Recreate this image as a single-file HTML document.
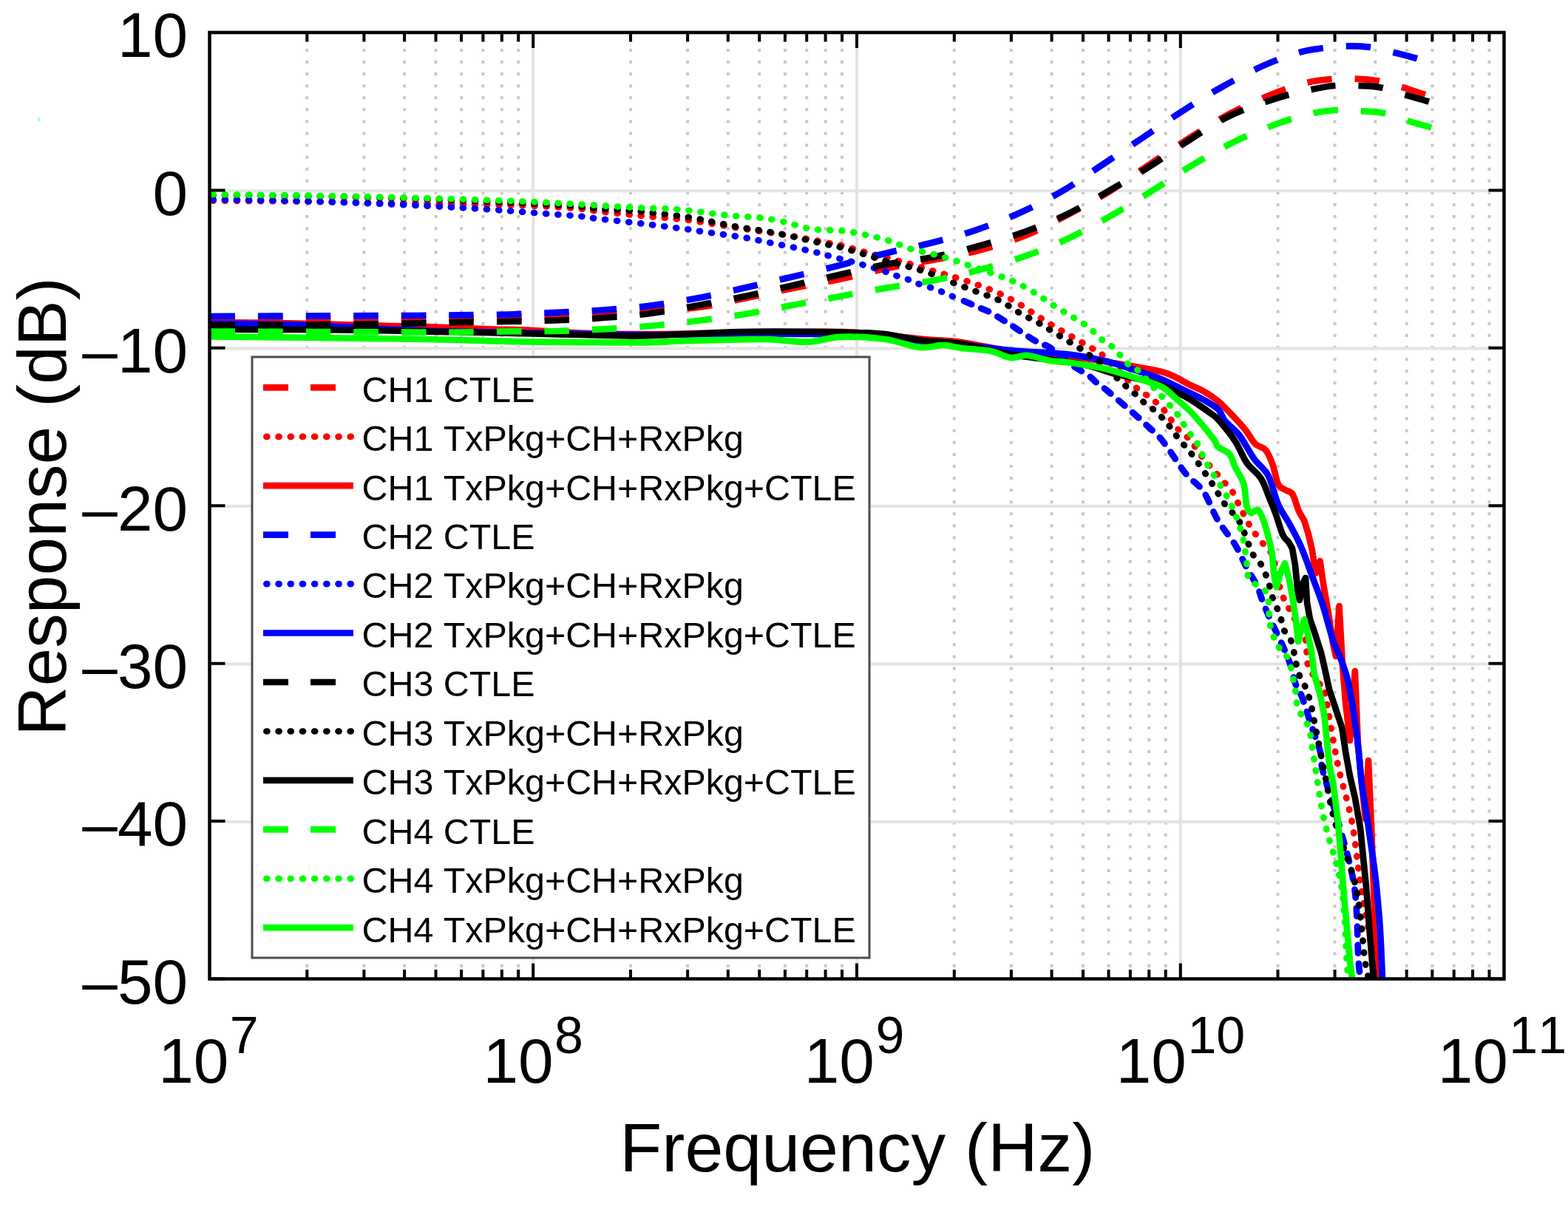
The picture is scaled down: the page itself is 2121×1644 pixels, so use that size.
<!DOCTYPE html><html><head><meta charset="utf-8"><title>Frequency response</title><style>html,body{margin:0;padding:0;background:#fff;}svg{display:block;}text{font-family:"Liberation Sans",sans-serif;fill:#000;font-kerning:none;font-feature-settings:"kern" 0;}</style></head><body>
<svg width="2121" height="1644" viewBox="0 0 2121 1644">
<rect width="2121" height="1644" fill="#fff"/>
<ellipse cx="52.5" cy="161.5" rx="1.8" ry="2.8" fill="#9ffbf8"/>
<g>
<line x1="415.3" y1="49.8" x2="415.3" y2="1314.5" stroke="#c8c8c8" stroke-width="4" stroke-dasharray="4 12.088"/>
<line x1="492.4" y1="49.8" x2="492.4" y2="1314.5" stroke="#c8c8c8" stroke-width="4" stroke-dasharray="4 12.088"/>
<line x1="547.1" y1="49.8" x2="547.1" y2="1314.5" stroke="#c8c8c8" stroke-width="4" stroke-dasharray="4 12.088"/>
<line x1="589.5" y1="49.8" x2="589.5" y2="1314.5" stroke="#c8c8c8" stroke-width="4" stroke-dasharray="4 12.088"/>
<line x1="624.1" y1="49.8" x2="624.1" y2="1314.5" stroke="#c8c8c8" stroke-width="4" stroke-dasharray="4 12.088"/>
<line x1="653.4" y1="49.8" x2="653.4" y2="1314.5" stroke="#c8c8c8" stroke-width="4" stroke-dasharray="4 12.088"/>
<line x1="678.8" y1="49.8" x2="678.8" y2="1314.5" stroke="#c8c8c8" stroke-width="4" stroke-dasharray="4 12.088"/>
<line x1="701.2" y1="49.8" x2="701.2" y2="1314.5" stroke="#c8c8c8" stroke-width="4" stroke-dasharray="4 12.088"/>
<line x1="853.0" y1="49.8" x2="853.0" y2="1314.5" stroke="#c8c8c8" stroke-width="4" stroke-dasharray="4 12.088"/>
<line x1="930.1" y1="49.8" x2="930.1" y2="1314.5" stroke="#c8c8c8" stroke-width="4" stroke-dasharray="4 12.088"/>
<line x1="984.8" y1="49.8" x2="984.8" y2="1314.5" stroke="#c8c8c8" stroke-width="4" stroke-dasharray="4 12.088"/>
<line x1="1027.2" y1="49.8" x2="1027.2" y2="1314.5" stroke="#c8c8c8" stroke-width="4" stroke-dasharray="4 12.088"/>
<line x1="1061.9" y1="49.8" x2="1061.9" y2="1314.5" stroke="#c8c8c8" stroke-width="4" stroke-dasharray="4 12.088"/>
<line x1="1091.2" y1="49.8" x2="1091.2" y2="1314.5" stroke="#c8c8c8" stroke-width="4" stroke-dasharray="4 12.088"/>
<line x1="1116.6" y1="49.8" x2="1116.6" y2="1314.5" stroke="#c8c8c8" stroke-width="4" stroke-dasharray="4 12.088"/>
<line x1="1139.0" y1="49.8" x2="1139.0" y2="1314.5" stroke="#c8c8c8" stroke-width="4" stroke-dasharray="4 12.088"/>
<line x1="1290.8" y1="49.8" x2="1290.8" y2="1314.5" stroke="#c8c8c8" stroke-width="4" stroke-dasharray="4 12.088"/>
<line x1="1367.9" y1="49.8" x2="1367.9" y2="1314.5" stroke="#c8c8c8" stroke-width="4" stroke-dasharray="4 12.088"/>
<line x1="1422.6" y1="49.8" x2="1422.6" y2="1314.5" stroke="#c8c8c8" stroke-width="4" stroke-dasharray="4 12.088"/>
<line x1="1465.0" y1="49.8" x2="1465.0" y2="1314.5" stroke="#c8c8c8" stroke-width="4" stroke-dasharray="4 12.088"/>
<line x1="1499.6" y1="49.8" x2="1499.6" y2="1314.5" stroke="#c8c8c8" stroke-width="4" stroke-dasharray="4 12.088"/>
<line x1="1528.9" y1="49.8" x2="1528.9" y2="1314.5" stroke="#c8c8c8" stroke-width="4" stroke-dasharray="4 12.088"/>
<line x1="1554.3" y1="49.8" x2="1554.3" y2="1314.5" stroke="#c8c8c8" stroke-width="4" stroke-dasharray="4 12.088"/>
<line x1="1576.7" y1="49.8" x2="1576.7" y2="1314.5" stroke="#c8c8c8" stroke-width="4" stroke-dasharray="4 12.088"/>
<line x1="1728.5" y1="49.8" x2="1728.5" y2="1314.5" stroke="#c8c8c8" stroke-width="4" stroke-dasharray="4 12.088"/>
<line x1="1805.6" y1="49.8" x2="1805.6" y2="1314.5" stroke="#c8c8c8" stroke-width="4" stroke-dasharray="4 12.088"/>
<line x1="1860.3" y1="49.8" x2="1860.3" y2="1314.5" stroke="#c8c8c8" stroke-width="4" stroke-dasharray="4 12.088"/>
<line x1="1902.7" y1="49.8" x2="1902.7" y2="1314.5" stroke="#c8c8c8" stroke-width="4" stroke-dasharray="4 12.088"/>
<line x1="1937.4" y1="49.8" x2="1937.4" y2="1314.5" stroke="#c8c8c8" stroke-width="4" stroke-dasharray="4 12.088"/>
<line x1="1966.7" y1="49.8" x2="1966.7" y2="1314.5" stroke="#c8c8c8" stroke-width="4" stroke-dasharray="4 12.088"/>
<line x1="1992.1" y1="49.8" x2="1992.1" y2="1314.5" stroke="#c8c8c8" stroke-width="4" stroke-dasharray="4 12.088"/>
<line x1="2014.5" y1="49.8" x2="2014.5" y2="1314.5" stroke="#c8c8c8" stroke-width="4" stroke-dasharray="4 12.088"/>
<line x1="721.2" y1="44.0" x2="721.2" y2="1324.5" stroke="#e4e4e4" stroke-width="4"/>
<line x1="1159.0" y1="44.0" x2="1159.0" y2="1324.5" stroke="#e4e4e4" stroke-width="4"/>
<line x1="1596.8" y1="44.0" x2="1596.8" y2="1324.5" stroke="#e4e4e4" stroke-width="4"/>
<line x1="283.5" y1="258.2" x2="2034.5" y2="258.2" stroke="#e4e4e4" stroke-width="4"/>
<line x1="283.5" y1="471.6" x2="2034.5" y2="471.6" stroke="#e4e4e4" stroke-width="4"/>
<line x1="283.5" y1="685.0" x2="2034.5" y2="685.0" stroke="#e4e4e4" stroke-width="4"/>
<line x1="283.5" y1="898.5" x2="2034.5" y2="898.5" stroke="#e4e4e4" stroke-width="4"/>
<line x1="283.5" y1="1111.9" x2="2034.5" y2="1111.9" stroke="#e4e4e4" stroke-width="4"/>
</g>
<g fill="none" stroke-width="8.7" stroke-linejoin="round">
<path d="M283.5,431.5 C311.2,431.5 403.9,431.6 450.0,431.5 C496.1,431.4 520.3,431.3 560.0,431.0 C599.7,430.7 656.0,430.1 688.0,429.5 C720.0,428.9 730.7,428.2 752.0,427.5 C773.3,426.8 794.7,426.2 816.0,425.0 C837.3,423.8 858.7,422.0 880.0,420.5 C901.3,419.0 922.7,418.8 944.0,416.0 C965.3,413.2 986.7,407.8 1008.0,403.5 C1029.3,399.2 1050.8,394.2 1072.0,390.0 C1093.2,385.8 1113.7,382.5 1135.0,378.0 C1156.3,373.5 1179.0,367.3 1200.0,363.0 C1221.0,358.7 1240.2,356.1 1261.0,352.0 C1281.8,347.9 1303.7,344.2 1324.5,338.7 C1345.3,333.2 1366.2,326.9 1386.0,319.0 C1405.8,311.1 1424.6,300.9 1443.6,291.0 C1462.6,281.1 1481.6,270.8 1500.0,259.5 C1518.4,248.2 1535.9,235.1 1554.0,223.0 C1572.1,210.9 1590.4,198.5 1608.6,187.0 C1626.8,175.5 1644.3,163.9 1663.0,154.0 C1681.7,144.1 1703.3,134.5 1720.8,127.5 C1738.2,120.5 1754.6,115.4 1767.7,112.0 C1780.8,108.6 1788.7,108.1 1799.5,107.2 C1810.3,106.3 1821.7,106.2 1832.5,106.6 C1843.3,107.0 1853.7,107.6 1864.3,109.5 C1874.9,111.4 1885.8,114.7 1896.2,117.8 C1906.7,120.9 1920.1,125.7 1927.0,128.0 C1933.9,130.3 1935.7,131.2 1937.4,131.8" stroke="#ff0000" stroke-dasharray="33.57 30.99" stroke-dashoffset="63.46"/>
<path d="M283.5,271.5 C302.9,271.7 360.6,272.0 400.0,272.5 C439.4,273.0 479.3,273.8 520.0,274.5 C560.7,275.2 610.2,275.8 644.0,276.5 C677.8,277.2 699.2,277.7 723.0,278.7 C746.8,279.7 773.5,281.5 787.0,282.6 C800.5,283.7 790.5,283.7 804.0,285.3 C817.5,286.9 846.4,289.9 867.7,292.0 C889.0,294.1 910.5,295.3 931.8,298.0 C953.1,300.7 974.5,304.8 995.7,308.0 C1017.0,311.2 1043.5,315.0 1059.3,317.5 C1075.1,320.0 1080.1,321.1 1090.5,323.0 C1100.9,324.9 1113.6,327.5 1121.6,329.0 C1129.6,330.5 1130.5,330.0 1138.5,332.0 C1146.5,334.0 1159.5,338.2 1169.8,341.0 C1180.0,343.8 1189.9,346.3 1200.0,349.0 C1210.1,351.7 1220.1,354.2 1230.2,357.0 C1240.3,359.8 1250.0,362.9 1260.4,366.0 C1270.8,369.1 1282.2,372.3 1292.5,375.5 C1302.8,378.7 1312.1,381.7 1322.0,385.3 C1331.9,388.9 1342.2,392.6 1351.8,397.0 C1361.4,401.4 1370.2,406.3 1379.4,411.8 C1388.6,417.3 1397.5,423.9 1407.0,429.9 C1416.5,435.9 1427.5,442.5 1436.7,447.9 C1445.9,453.3 1455.7,458.8 1462.2,462.5 C1468.7,466.2 1471.1,467.8 1475.5,470.4 C1479.9,473.0 1482.8,473.1 1488.7,478.0 C1494.6,482.9 1503.3,492.5 1511.0,500.0 C1518.7,507.5 1529.0,517.7 1535.0,523.0 C1541.0,528.3 1542.9,528.7 1547.0,531.7 C1551.1,534.7 1555.4,537.9 1559.4,541.0 C1563.4,544.1 1567.4,547.1 1570.8,550.6 C1574.2,554.1 1577.2,558.2 1580.0,562.0 C1582.8,565.8 1584.9,569.5 1587.7,573.2 C1590.5,577.0 1593.4,580.9 1597.0,584.5 C1600.6,588.1 1604.2,589.0 1609.4,595.0 C1614.6,601.0 1620.6,611.1 1627.9,620.2 C1635.2,629.3 1646.7,641.9 1653.2,649.4 C1659.7,656.9 1662.9,659.2 1666.8,665.0 C1670.7,670.8 1672.3,676.3 1676.5,684.4 C1680.7,692.5 1686.5,704.8 1692.0,713.6 C1697.5,722.4 1704.7,730.5 1709.6,737.0 C1714.5,743.5 1717.3,741.7 1721.3,752.5 C1725.3,763.3 1728.6,788.2 1733.4,802.0 C1738.2,815.8 1744.6,824.5 1750.0,835.0 C1755.4,845.5 1762.6,854.3 1765.8,865.0 C1769.0,875.7 1766.1,889.2 1769.2,899.2 C1772.3,909.2 1780.8,919.1 1784.5,924.8 C1788.2,930.5 1788.2,920.5 1791.3,933.3 C1794.4,946.1 1799.9,982.9 1803.3,1001.4 C1806.7,1019.9 1807.6,1025.6 1811.8,1044.0 C1816.0,1062.4 1823.8,1086.0 1828.7,1112.0 C1833.6,1138.0 1836.0,1168.7 1841.0,1200.0 C1846.0,1231.3 1855.5,1279.2 1858.7,1300.0 C1861.9,1320.8 1859.8,1320.4 1860.0,1324.5" stroke="#ff0000" stroke-dasharray="1 15.1" stroke-linecap="round" stroke-dashoffset="-4.35"/>
<path d="M283.5,436.0 C302.9,436.2 359.4,436.7 400.0,437.5 C440.6,438.3 495.3,440.2 527.0,441.0 C558.7,441.8 568.7,441.8 590.0,442.5 C611.3,443.2 633.3,444.2 655.0,445.0 C676.7,445.8 698.5,446.1 720.0,447.0 C741.5,447.9 762.3,449.7 784.0,450.5 C805.7,451.3 830.7,451.8 850.0,452.0 C869.3,452.2 875.0,452.3 900.0,452.0 C925.0,451.7 966.7,450.5 1000.0,450.0 C1033.3,449.5 1073.5,449.0 1100.0,449.0 C1126.5,449.0 1134.0,448.3 1159.0,450.0 C1184.0,451.7 1226.5,456.8 1250.0,459.0 C1273.5,461.2 1280.5,460.3 1300.0,463.0 C1319.5,465.7 1347.0,472.2 1367.0,475.0 C1387.0,477.8 1404.2,478.5 1420.0,480.0 C1435.8,481.5 1447.8,482.2 1462.0,484.0 C1476.2,485.8 1491.3,488.7 1505.0,491.0 C1518.7,493.3 1532.7,495.6 1544.0,497.7 C1555.3,499.8 1565.0,501.3 1572.6,503.4 C1580.2,505.4 1583.3,507.1 1589.5,510.0 C1595.7,512.9 1603.4,517.7 1610.0,521.0 C1616.6,524.3 1622.7,526.3 1629.0,530.0 C1635.3,533.7 1641.7,537.7 1648.0,543.0 C1654.3,548.3 1660.8,555.4 1666.8,561.8 C1672.8,568.2 1679.1,574.7 1684.3,581.2 C1689.5,587.7 1693.5,596.2 1698.0,600.7 C1702.5,605.2 1707.7,604.0 1711.6,608.5 C1715.5,613.0 1718.4,620.2 1721.3,628.0 C1724.2,635.8 1726.1,649.4 1729.0,655.2 C1731.9,661.0 1735.5,660.7 1738.8,663.0 C1742.1,665.3 1745.7,664.3 1748.6,668.8 C1751.5,673.3 1753.7,684.4 1756.3,690.2 C1758.9,696.1 1762.7,701.6 1764.0,703.9 L1770.0,723.3 L1775.0,745.0 L1779.5,776.0 L1785.6,759.0 L1790.0,790.0 L1797.0,830.0 L1803.0,870.0 L1807.0,888.0 L1811.5,820.0 L1816.0,900.0 L1820.0,950.0 L1826.0,1002.0 L1832.8,908.0 L1837.0,1008.0 L1842.0,1060.0 L1847.0,1108.0 L1851.0,1029.0 L1855.0,1118.0 L1858.0,1200.0 L1861.0,1300.0 L1862.0,1324.5" stroke="#ff0000"/>
<path d="M283.5,428.0 C306.2,427.9 373.9,427.7 420.0,427.5 C466.1,427.3 526.3,427.2 560.0,427.0 C593.7,426.8 600.7,426.6 622.0,426.3 C643.3,426.1 666.3,426.1 688.0,425.5 C709.7,424.9 730.7,423.8 752.0,422.8 C773.3,421.8 794.7,421.0 816.0,419.5 C837.3,418.0 858.7,416.3 880.0,413.6 C901.3,410.9 922.8,407.3 944.0,403.3 C965.2,399.3 986.0,394.2 1007.0,389.5 C1028.0,384.8 1048.8,380.0 1070.0,375.0 C1091.2,370.0 1112.8,364.8 1134.0,359.5 C1155.2,354.2 1176.2,348.1 1197.0,343.0 C1217.8,337.9 1238.0,334.3 1258.5,329.0 C1279.0,323.7 1299.8,318.2 1320.0,311.3 C1340.2,304.4 1360.5,296.5 1380.0,287.7 C1399.5,278.9 1418.5,269.3 1437.0,258.5 C1455.5,247.7 1473.2,234.8 1491.0,223.0 C1508.8,211.2 1526.0,199.6 1544.0,187.5 C1562.0,175.4 1580.8,162.2 1599.0,150.6 C1617.2,138.9 1634.3,128.0 1653.0,117.6 C1671.7,107.1 1693.7,95.6 1711.0,87.9 C1728.3,80.2 1744.2,75.0 1757.0,71.2 C1769.8,67.4 1777.3,66.8 1788.0,65.3 C1798.7,63.8 1810.5,62.7 1821.0,62.4 C1831.5,62.1 1840.5,62.2 1851.0,63.6 C1861.5,65.0 1873.2,68.0 1884.0,70.6 C1894.8,73.2 1907.1,76.4 1916.0,79.0 C1924.9,81.6 1933.8,84.8 1937.4,86.0" stroke="#0000ff" stroke-dasharray="33.55 30.97" stroke-dashoffset="63.42"/>
<path d="M283.5,270.0 C302.9,270.3 360.6,271.0 400.0,272.0 C439.4,273.0 479.3,274.3 520.0,276.0 C560.7,277.7 610.2,280.3 644.0,282.3 C677.8,284.3 699.2,286.2 723.0,288.0 C746.8,289.8 773.5,291.6 787.0,292.8 C800.5,294.0 790.5,293.8 804.0,295.4 C817.5,297.0 846.4,300.0 867.7,302.5 C889.0,305.0 918.5,308.8 931.8,310.5 C945.1,312.2 939.8,311.9 947.6,313.0 C955.4,314.1 968.1,315.8 978.7,317.3 C989.3,318.8 1000.4,320.3 1011.0,322.2 C1021.6,324.1 1031.7,326.5 1042.4,328.6 C1053.1,330.7 1064.4,332.8 1075.0,335.0 C1085.6,337.2 1098.2,340.1 1106.0,342.0 C1113.8,343.9 1114.1,344.3 1121.6,346.3 C1129.1,348.3 1143.3,351.8 1151.0,353.8 C1158.7,355.8 1160.5,356.3 1168.0,358.5 C1175.5,360.7 1188.8,364.6 1196.0,367.0 C1203.2,369.4 1205.9,370.9 1211.0,372.6 C1216.1,374.3 1221.6,375.7 1226.4,377.4 C1231.2,379.1 1233.0,380.6 1239.6,383.0 C1246.2,385.4 1259.1,389.0 1266.0,391.5 C1272.9,394.0 1275.3,395.6 1281.0,398.0 C1286.7,400.4 1296.8,404.4 1300.0,405.7" stroke="#0000ff" stroke-dasharray="1 15.1" stroke-linecap="round" stroke-dashoffset="-4.35"/>
<path d="M1300.0,405.7 C1302.2,406.6 1308.8,409.4 1313.2,411.3 C1317.6,413.2 1322.1,415.1 1326.4,417.0 C1330.7,418.9 1333.3,419.4 1339.0,422.4 C1344.7,425.4 1353.2,430.8 1360.3,435.2 C1367.4,439.6 1374.4,444.4 1381.5,449.0 C1388.6,453.6 1396.4,459.2 1402.8,462.7 C1409.2,466.2 1413.3,465.9 1419.7,470.0 C1426.1,474.1 1436.0,483.0 1441.0,487.0 C1446.0,491.0 1444.6,490.3 1450.0,494.0 C1455.4,497.7 1468.1,505.1 1473.6,509.0 C1479.1,512.9 1479.1,514.3 1483.0,517.5 C1486.9,520.7 1492.3,524.2 1497.0,528.0 C1501.7,531.8 1506.2,535.9 1511.0,540.0 C1515.8,544.1 1520.7,548.4 1525.5,552.5 C1530.3,556.6 1534.9,560.5 1539.6,564.7 C1544.3,569.0 1549.1,573.6 1553.8,578.0 C1558.5,582.4 1563.5,586.0 1568.0,591.0 C1572.5,596.0 1574.9,599.6 1581.0,608.0 C1587.1,616.4 1596.7,632.1 1604.5,641.6 C1612.3,651.1 1620.8,654.6 1627.9,665.0 C1635.0,675.4 1640.2,691.9 1647.3,703.9 C1654.4,715.9 1664.2,726.3 1670.7,737.0 C1677.2,747.7 1681.4,758.8 1686.3,768.0 C1691.2,777.2 1696.1,783.7 1700.0,792.0 C1703.9,800.3 1706.0,809.2 1709.6,818.0 C1713.2,826.8 1717.2,835.7 1721.5,845.0 C1725.8,854.3 1731.1,864.7 1735.1,873.7 C1739.1,882.7 1742.6,890.7 1745.4,899.2 C1748.2,907.7 1749.7,917.7 1752.2,924.8 C1754.8,931.9 1757.9,934.7 1760.7,941.8 C1763.5,948.9 1766.4,958.8 1769.2,967.3 C1772.0,975.8 1774.9,984.4 1777.7,992.9 C1780.5,1001.4 1784.2,1009.9 1786.2,1018.4 C1788.2,1026.9 1785.6,1028.4 1789.6,1044.0 C1793.6,1059.6 1802.9,1086.0 1810.0,1112.0 C1817.1,1138.0 1827.4,1168.7 1832.0,1200.0 C1836.6,1231.3 1836.1,1279.2 1837.6,1300.0 C1839.1,1320.8 1840.4,1320.4 1841.0,1324.5" stroke="#0000ff" stroke-dasharray="11 14" stroke-linecap="round" stroke-dashoffset="-4.35"/>
<path d="M283.5,437.8 C291.2,437.9 310.6,437.9 330.0,438.2 C349.4,438.5 378.3,438.9 400.0,439.5 C421.7,440.1 438.8,441.0 460.0,442.0 C481.2,443.0 505.3,444.5 527.0,445.5 C548.7,446.5 557.8,447.2 590.0,448.0 C622.2,448.8 676.7,449.7 720.0,450.5 C763.3,451.3 820.0,452.6 850.0,453.0 C880.0,453.4 875.0,453.2 900.0,453.0 C925.0,452.8 966.7,451.7 1000.0,451.5 C1033.3,451.3 1073.5,451.8 1100.0,452.0 C1126.5,452.2 1134.0,451.3 1159.0,453.0 C1184.0,454.7 1226.5,459.8 1250.0,462.0 C1273.5,464.2 1280.5,464.0 1300.0,466.0 C1319.5,468.0 1347.0,472.1 1367.0,474.0 C1387.0,475.9 1406.2,476.6 1420.0,477.6 C1433.8,478.6 1437.2,478.1 1450.0,480.0 C1462.8,481.9 1481.3,485.1 1497.0,489.0 C1512.7,492.9 1531.4,499.6 1544.0,503.7 C1556.6,507.8 1563.1,509.7 1572.6,513.7 C1582.1,517.7 1591.6,523.1 1601.0,527.7 C1610.4,532.3 1621.2,537.1 1629.0,541.5 C1636.8,545.9 1643.3,549.3 1648.0,554.0 C1652.7,558.7 1652.2,563.7 1657.0,569.5 C1661.8,575.3 1670.0,580.5 1676.5,589.0 C1683.0,597.5 1689.5,611.1 1696.0,620.2 C1702.5,629.3 1710.0,633.1 1715.5,643.5 C1721.0,653.9 1724.1,671.4 1729.0,682.4 C1733.9,693.4 1739.5,700.1 1744.7,709.7 C1749.9,719.3 1755.0,728.5 1760.0,740.0 C1765.0,751.5 1769.9,766.0 1774.7,779.0 C1779.5,792.0 1784.3,803.5 1789.0,818.0 C1793.7,832.5 1799.0,854.0 1803.0,866.0 C1807.0,878.0 1809.8,881.6 1813.0,890.0 C1816.2,898.4 1819.4,906.2 1822.0,916.2 C1824.6,926.2 1826.8,938.9 1828.8,950.3 C1830.8,961.7 1832.5,973.0 1834.0,984.4 C1835.5,995.8 1836.7,1005.8 1838.0,1018.4 C1839.3,1031.0 1840.0,1044.4 1842.0,1060.0 C1844.0,1075.6 1847.5,1095.3 1850.0,1112.0 C1852.5,1128.7 1855.0,1145.3 1857.0,1160.0 C1859.0,1174.7 1860.3,1183.3 1862.0,1200.0 C1863.7,1216.7 1865.7,1239.2 1867.0,1260.0 C1868.3,1280.8 1869.5,1313.8 1870.0,1324.5" stroke="#0000ff"/>
<path d="M283.5,440.0 C306.2,439.9 373.9,439.9 420.0,439.5 C466.1,439.1 526.3,438.1 560.0,437.5 C593.7,436.9 600.7,436.4 622.0,436.0 C643.3,435.6 666.3,435.4 688.0,435.0 C709.7,434.6 730.7,434.3 752.0,433.5 C773.3,432.7 794.7,431.6 816.0,430.0 C837.3,428.4 858.7,426.8 880.0,424.0 C901.3,421.2 922.5,417.1 944.0,413.2 C965.5,409.3 987.5,405.1 1008.7,400.7 C1029.9,396.2 1050.0,391.3 1071.0,386.5 C1092.0,381.7 1113.0,376.8 1134.5,372.0 C1156.0,367.2 1178.9,361.5 1200.0,357.5 C1221.1,353.5 1240.7,352.1 1261.3,348.0 C1281.9,343.9 1303.0,338.7 1323.6,333.0 C1344.2,327.3 1364.9,321.2 1385.0,314.0 C1405.1,306.8 1425.9,298.3 1444.0,289.6 C1462.1,280.9 1475.1,272.6 1493.4,262.0 C1511.7,251.4 1534.9,238.0 1554.0,226.0 C1573.1,214.0 1589.8,201.5 1608.0,190.0 C1626.2,178.5 1643.4,166.4 1663.0,157.0 C1682.6,147.6 1707.3,139.3 1725.7,133.4 C1744.1,127.5 1760.5,124.2 1773.6,121.3 C1786.7,118.4 1793.6,116.9 1804.2,116.0 C1814.8,115.1 1826.6,115.6 1837.2,116.0 C1847.8,116.4 1857.3,116.3 1867.9,118.4 C1878.5,120.5 1890.4,125.3 1900.9,128.4 C1911.4,131.5 1924.9,135.2 1931.0,137.0 C1937.1,138.8 1936.3,139.1 1937.4,139.5" stroke="#000000" stroke-dasharray="33.57 30.99" stroke-dashoffset="63.45"/>
<path d="M283.5,263.5 C302.9,263.8 360.6,264.3 400.0,265.0 C439.4,265.7 479.3,266.4 520.0,267.6 C560.7,268.8 610.2,270.7 644.0,272.0 C677.8,273.3 699.2,274.4 723.0,275.6 C746.8,276.9 773.5,278.4 787.0,279.5 C800.5,280.6 790.5,280.8 804.0,282.0 C817.5,283.2 846.4,284.5 867.7,286.5 C889.0,288.5 915.6,291.7 931.8,294.0 C947.9,296.3 954.0,298.2 964.6,300.3 C975.2,302.4 985.3,304.8 995.7,306.7 C1006.1,308.6 1016.2,309.8 1026.8,311.6 C1037.4,313.4 1048.7,315.2 1059.3,317.3 C1069.9,319.4 1080.1,322.0 1090.5,324.4 C1100.9,326.8 1113.6,329.6 1121.6,331.4 C1129.6,333.2 1130.5,332.9 1138.5,335.0 C1146.5,337.1 1159.5,341.2 1169.8,344.3 C1180.0,347.4 1189.9,351.0 1200.0,353.8 C1210.1,356.6 1220.1,358.5 1230.2,361.3 C1240.3,364.1 1250.3,367.2 1260.4,370.8 C1270.5,374.4 1280.2,378.9 1290.6,383.0 C1301.0,387.1 1312.4,391.4 1322.6,395.3 C1332.8,399.2 1342.3,401.8 1351.8,406.5 C1361.3,411.2 1370.2,418.2 1379.4,423.5 C1388.6,428.8 1397.8,433.0 1407.0,438.3 C1416.2,443.6 1425.4,449.6 1434.6,455.3 C1443.8,461.0 1455.4,467.9 1462.2,472.3 C1469.0,476.7 1471.2,478.8 1475.5,481.7 C1479.8,484.6 1481.8,485.0 1487.7,490.0 C1493.6,495.0 1505.0,506.1 1511.0,511.6 C1517.0,517.1 1519.4,519.3 1523.6,523.0 C1527.8,526.7 1532.3,530.1 1536.4,533.8 C1540.5,537.5 1544.0,541.6 1548.0,545.0 C1552.0,548.4 1556.3,550.8 1560.4,554.3 C1564.5,557.8 1568.8,561.8 1572.6,565.7 C1576.4,569.7 1579.8,574.0 1583.0,578.0 C1586.2,582.0 1588.3,585.9 1591.5,590.0 C1594.7,594.1 1598.7,598.5 1602.2,602.8 C1605.8,607.0 1606.9,607.4 1612.8,615.5 C1618.7,623.6 1630.2,640.1 1637.6,651.3 C1645.0,662.4 1650.5,673.3 1657.0,682.4 C1663.5,691.5 1670.3,694.8 1676.5,705.8 C1682.7,716.8 1689.2,739.2 1694.0,748.6 C1698.8,758.0 1702.0,757.7 1705.0,762.4 C1708.0,767.1 1710.0,772.3 1711.9,777.0 C1713.9,781.7 1715.2,785.7 1716.7,790.6 C1718.2,795.5 1719.0,801.2 1720.6,806.2 C1722.2,811.2 1724.5,816.1 1726.5,820.8 C1728.5,825.5 1730.8,829.6 1732.3,834.5 C1733.8,839.4 1733.1,845.1 1735.2,850.0 C1737.3,854.9 1742.6,858.7 1745.0,863.7 C1747.4,868.7 1748.5,874.9 1749.8,880.2 C1751.1,885.6 1751.5,890.4 1752.8,895.8 C1754.0,901.2 1755.1,907.1 1757.3,912.8 C1759.5,918.5 1763.2,923.6 1765.8,929.9 C1768.3,936.1 1770.3,941.2 1772.6,950.3 C1774.9,959.4 1777.1,973.0 1779.4,984.4 C1781.7,995.8 1784.2,1008.5 1786.2,1018.4 C1788.2,1028.3 1788.0,1028.4 1791.3,1044.0 C1794.6,1059.6 1798.7,1086.0 1805.8,1112.0 C1812.9,1138.0 1827.2,1168.7 1834.0,1200.0 C1840.8,1231.3 1843.5,1279.2 1846.4,1300.0 C1849.4,1320.8 1850.8,1320.4 1851.7,1324.5" stroke="#000000" stroke-dasharray="1 15.1" stroke-linecap="round" stroke-dashoffset="-4.35"/>
<path d="M283.5,445.5 C291.2,445.6 310.6,445.7 330.0,445.8 C349.4,445.9 378.3,445.9 400.0,446.0 C421.7,446.1 438.8,446.2 460.0,446.5 C481.2,446.8 505.3,447.1 527.0,447.5 C548.7,447.9 568.7,448.4 590.0,448.8 C611.3,449.2 633.3,449.6 655.0,450.0 C676.7,450.4 698.5,451.0 720.0,451.5 C741.5,452.0 762.3,452.5 784.0,453.0 C805.7,453.5 834.0,454.3 850.0,454.5 C866.0,454.7 863.3,454.8 880.0,454.2 C896.7,453.6 930.0,451.9 950.0,451.0 C970.0,450.1 975.0,449.4 1000.0,449.0 C1025.0,448.6 1073.5,448.7 1100.0,448.9 C1126.5,449.1 1142.8,449.5 1159.0,450.0 C1175.2,450.5 1182.5,450.2 1197.0,452.0 C1211.5,453.8 1228.8,458.3 1246.0,460.5 C1263.2,462.7 1279.8,461.8 1300.0,465.0 C1320.2,468.2 1340.0,475.1 1367.0,479.7 C1394.0,484.3 1439.0,488.3 1462.0,492.5 C1485.0,496.7 1490.3,501.2 1505.0,505.0 C1519.7,508.8 1538.7,512.2 1550.0,515.0 C1561.3,517.8 1564.1,518.6 1572.6,522.0 C1581.1,525.4 1593.1,531.3 1601.0,535.5 C1608.9,539.7 1613.7,542.9 1620.0,547.0 C1626.3,551.1 1634.0,556.5 1638.7,560.0 C1643.4,563.5 1642.7,561.9 1648.0,568.0 C1653.3,574.1 1664.3,587.1 1670.7,596.8 C1677.1,606.5 1680.5,617.6 1686.3,626.0 C1692.1,634.4 1700.5,639.3 1705.7,647.4 C1710.9,655.5 1714.2,666.9 1717.4,674.7 C1720.7,682.5 1722.3,686.0 1725.2,694.1 C1728.1,702.2 1732.1,716.8 1735.0,723.3 C1737.9,729.8 1740.5,729.9 1742.7,733.0 C1744.9,736.1 1747.1,740.5 1748.0,742.0 L1752.0,765.0 L1755.5,800.0 L1758.0,812.0 L1762.0,790.0 L1766.0,782.0 L1768.0,815.0 L1772.0,838.0 L1777.0,852.0 L1787.0,883.0 L1792.0,905.0 L1798.2,933.3 L1806.7,958.8 L1815.2,984.4 L1820.3,1018.4 L1826.0,1050.0 L1833.0,1080.0 L1840.0,1120.0 L1848.0,1200.0 L1853.0,1265.0 L1858.0,1324.5" stroke="#000000"/>
<path d="M283.5,448.5 C306.2,448.6 373.9,448.8 420.0,449.0 C466.1,449.2 526.3,449.4 560.0,449.5 C593.7,449.6 600.7,449.7 622.0,449.5 C643.3,449.3 666.3,448.8 688.0,448.5 C709.7,448.2 730.7,448.5 752.0,448.0 C773.3,447.5 794.7,446.6 816.0,445.4 C837.3,444.2 858.7,442.9 880.0,441.0 C901.3,439.1 922.7,436.7 944.0,434.0 C965.3,431.3 986.7,428.5 1008.0,425.0 C1029.3,421.5 1050.8,417.0 1072.0,413.0 C1093.2,409.0 1113.8,405.1 1135.0,401.2 C1156.2,397.3 1177.5,393.3 1199.0,389.6 C1220.5,385.9 1242.9,383.3 1264.0,379.2 C1285.1,375.1 1304.9,370.5 1325.5,365.0 C1346.1,359.5 1367.5,353.4 1387.7,346.2 C1408.0,339.0 1428.3,330.5 1447.0,321.7 C1465.7,312.9 1481.3,304.1 1500.0,293.5 C1518.7,282.9 1540.1,269.6 1559.0,257.8 C1577.9,246.1 1595.1,234.0 1613.5,223.0 C1631.9,212.0 1650.3,201.1 1669.6,191.8 C1688.8,182.5 1711.3,173.4 1729.0,167.0 C1746.7,160.6 1762.9,156.2 1776.0,153.2 C1789.1,150.2 1797.0,149.5 1807.8,149.0 C1818.6,148.5 1830.0,149.5 1840.8,150.2 C1851.6,150.9 1862.2,151.0 1872.6,153.2 C1883.0,155.4 1893.0,160.1 1903.2,163.2 C1913.4,166.3 1928.3,170.3 1934.0,172.0 C1939.7,173.7 1936.8,173.0 1937.4,173.2" stroke="#00ff00" stroke-dasharray="33.56 30.98" stroke-dashoffset="63.44"/>
<path d="M283.5,263.0 C318.2,263.5 421.9,264.4 492.0,266.0 C562.1,267.6 643.9,270.0 704.0,272.4 C764.1,274.8 817.4,278.7 852.8,280.5 C888.2,282.3 897.9,281.9 916.5,283.3 C935.1,284.7 951.2,287.5 964.6,289.0 C978.0,290.5 986.2,291.6 997.0,292.5 C1007.8,293.4 1019.0,293.4 1029.6,294.7 C1040.2,296.0 1052.9,298.6 1060.7,300.3 C1068.5,302.0 1071.1,303.2 1076.3,304.6 C1081.5,306.0 1086.5,307.7 1091.9,308.8 C1097.3,309.9 1100.8,310.4 1108.8,311.0 C1116.8,311.6 1129.5,311.1 1140.0,312.3 C1150.5,313.5 1161.4,315.8 1171.7,318.0 C1182.0,320.2 1191.9,322.4 1201.9,325.5 C1212.0,328.6 1221.7,333.7 1232.0,336.8 C1242.3,339.9 1253.9,341.6 1264.0,344.3 C1274.1,347.0 1282.7,349.7 1292.5,352.8 C1302.3,355.9 1312.5,359.7 1322.6,363.2 C1332.6,366.7 1343.4,370.1 1352.8,373.6 C1362.2,377.2 1370.2,380.1 1379.0,384.5 C1387.8,388.9 1398.9,395.8 1405.7,400.0 C1412.5,404.2 1413.4,405.7 1420.0,410.0 C1426.6,414.3 1436.8,420.4 1445.2,425.6 C1453.7,430.9 1462.5,435.3 1470.7,441.5 C1478.9,447.7 1488.3,458.0 1494.3,462.8 C1500.3,467.6 1502.8,467.1 1506.6,470.4 C1510.4,473.7 1513.5,478.7 1517.0,482.6 C1520.5,486.5 1523.6,490.9 1527.4,494.0 C1531.2,497.1 1534.2,496.5 1539.6,501.5 C1545.0,506.5 1553.1,516.5 1560.0,524.0 C1566.9,531.5 1575.8,541.0 1581.0,546.8 C1586.2,552.6 1588.3,554.8 1591.5,559.0 C1594.7,563.2 1597.2,567.9 1600.0,572.3 C1602.8,576.7 1605.7,581.7 1608.5,585.5 C1611.3,589.3 1613.1,588.2 1617.0,595.0 C1620.9,601.8 1625.1,614.0 1631.8,626.0 C1638.5,638.0 1650.2,654.6 1657.0,666.9 C1663.8,679.2 1668.4,689.0 1672.6,700.0 C1676.8,711.0 1680.1,722.6 1682.4,733.0 C1684.7,743.4 1685.0,753.8 1686.3,762.3 C1687.6,770.8 1685.9,777.4 1690.2,783.7 C1694.5,790.0 1707.7,794.8 1712.0,800.0 C1716.3,805.2 1715.0,807.5 1716.0,815.0 C1717.0,822.5 1716.0,835.3 1718.0,845.0 C1720.0,854.7 1723.8,865.0 1728.0,873.0 C1732.2,881.0 1739.0,883.0 1743.0,893.0 C1747.0,903.0 1749.8,922.0 1752.0,933.0 C1754.2,944.0 1753.0,950.5 1756.0,959.0 C1759.0,967.5 1766.7,974.2 1770.0,984.0 C1773.3,993.8 1774.3,1008.0 1776.0,1018.0 C1777.7,1028.0 1777.4,1028.3 1780.0,1044.0 C1782.6,1059.7 1785.9,1086.0 1791.7,1112.0 C1797.5,1138.0 1809.6,1168.7 1814.6,1200.0 C1819.6,1231.3 1820.2,1279.2 1821.7,1300.0 C1823.2,1320.8 1823.2,1320.4 1823.5,1324.5" stroke="#00ff00" stroke-dasharray="1 15.1" stroke-linecap="round" stroke-dashoffset="-4.35"/>
<path d="M283.5,455.3 C307.2,455.6 377.9,456.4 426.0,457.0 C474.1,457.6 523.3,458.1 572.0,459.0 C620.7,459.9 669.2,461.8 718.0,462.5 C766.8,463.2 831.3,463.7 865.0,463.5 C898.7,463.3 897.5,462.2 920.0,461.5 C942.5,460.8 980.0,459.9 1000.0,459.5 C1020.0,459.1 1024.3,458.7 1040.0,459.2 C1055.7,459.7 1077.8,463.2 1094.0,462.6 C1110.2,462.0 1119.8,456.4 1137.0,455.8 C1154.2,455.2 1179.2,456.6 1197.0,459.0 C1214.8,461.4 1230.8,468.7 1244.0,470.0 C1257.2,471.3 1266.7,466.8 1276.0,467.0 C1285.3,467.2 1289.3,469.7 1300.0,471.0 C1310.7,472.3 1328.8,472.8 1340.0,475.0 C1351.2,477.2 1358.7,483.0 1367.0,484.0 C1375.3,485.0 1381.2,480.3 1390.0,481.0 C1398.8,481.7 1410.0,486.3 1420.0,488.0 C1430.0,489.7 1437.2,489.1 1450.0,491.0 C1462.8,492.9 1481.3,495.8 1497.0,499.6 C1512.7,503.4 1531.4,509.7 1544.0,513.8 C1556.6,517.9 1564.7,519.6 1572.6,524.0 C1580.5,528.4 1585.2,534.5 1591.5,540.0 C1597.8,545.5 1604.2,550.7 1610.4,557.0 C1616.7,563.3 1623.5,571.4 1629.0,578.0 C1634.5,584.6 1640.4,592.4 1643.4,596.8 C1646.5,601.2 1644.0,601.7 1647.3,604.6 C1650.6,607.5 1659.1,609.8 1663.0,614.3 C1666.9,618.8 1667.5,625.0 1670.7,631.8 C1673.9,638.6 1679.8,646.4 1682.4,655.2 C1685.0,664.0 1684.7,677.9 1686.3,684.4 C1687.9,690.9 1689.4,693.0 1692.0,694.0 C1694.6,695.0 1698.9,688.2 1701.8,690.2 C1704.7,692.2 1707.0,698.7 1709.6,705.8 C1712.2,712.9 1716.1,728.5 1717.4,733.0 L1721.0,750.0 L1723.0,775.0 L1726.5,794.5 L1732.0,775.0 L1738.0,762.0 L1744.0,785.0 L1749.0,812.0 L1753.0,840.0 L1756.0,868.0 L1760.0,852.0 L1764.4,838.0 L1769.0,858.0 L1774.0,882.0 L1777.7,912.0 L1786.2,941.8 L1791.3,967.3 L1794.8,1001.4 L1798.2,1035.5 L1803.3,1060.0 L1810.0,1112.0 L1817.0,1200.0 L1826.0,1300.0 L1829.0,1324.5" stroke="#00ff00"/>
</g>
<g stroke="#000" fill="none">
<rect x="283.5" y="44.0" width="1751.0" height="1280.5" stroke-width="4.5"/>
<path d="M415.3,44.0v12.5M415.3,1324.5v-12.5M492.4,44.0v12.5M492.4,1324.5v-12.5M547.1,44.0v12.5M547.1,1324.5v-12.5M589.5,44.0v12.5M589.5,1324.5v-12.5M624.1,44.0v12.5M624.1,1324.5v-12.5M653.4,44.0v12.5M653.4,1324.5v-12.5M678.8,44.0v12.5M678.8,1324.5v-12.5M701.2,44.0v12.5M701.2,1324.5v-12.5M853.0,44.0v12.5M853.0,1324.5v-12.5M930.1,44.0v12.5M930.1,1324.5v-12.5M984.8,44.0v12.5M984.8,1324.5v-12.5M1027.2,44.0v12.5M1027.2,1324.5v-12.5M1061.9,44.0v12.5M1061.9,1324.5v-12.5M1091.2,44.0v12.5M1091.2,1324.5v-12.5M1116.6,44.0v12.5M1116.6,1324.5v-12.5M1139.0,44.0v12.5M1139.0,1324.5v-12.5M1290.8,44.0v12.5M1290.8,1324.5v-12.5M1367.9,44.0v12.5M1367.9,1324.5v-12.5M1422.6,44.0v12.5M1422.6,1324.5v-12.5M1465.0,44.0v12.5M1465.0,1324.5v-12.5M1499.6,44.0v12.5M1499.6,1324.5v-12.5M1528.9,44.0v12.5M1528.9,1324.5v-12.5M1554.3,44.0v12.5M1554.3,1324.5v-12.5M1576.7,44.0v12.5M1576.7,1324.5v-12.5M1728.5,44.0v12.5M1728.5,1324.5v-12.5M1805.6,44.0v12.5M1805.6,1324.5v-12.5M1860.3,44.0v12.5M1860.3,1324.5v-12.5M1902.7,44.0v12.5M1902.7,1324.5v-12.5M1937.4,44.0v12.5M1937.4,1324.5v-12.5M1966.7,44.0v12.5M1966.7,1324.5v-12.5M1992.1,44.0v12.5M1992.1,1324.5v-12.5M2014.5,44.0v12.5M2014.5,1324.5v-12.5M721.2,44.0v21M721.2,1324.5v-21M1159.0,44.0v21M1159.0,1324.5v-21M1596.8,44.0v21M1596.8,1324.5v-21M283.5,44.0h21M2034.5,44.0h-21M283.5,257.4h21M2034.5,257.4h-21M283.5,470.8h21M2034.5,470.8h-21M283.5,684.2h21M2034.5,684.2h-21M283.5,897.7h21M2034.5,897.7h-21M283.5,1111.1h21M2034.5,1111.1h-21M283.5,1324.5h21M2034.5,1324.5h-21" stroke-width="4"/>
</g>
<g font-size="85.5" text-anchor="end">
<text x="254" y="77.3">10</text>
<text x="254" y="290.7">0</text>
<text x="254" y="504.1">–10</text>
<text x="254" y="717.5">–20</text>
<text x="254" y="931.0">–30</text>
<text x="254" y="1144.4">–40</text>
<text x="254" y="1357.8">–50</text>
</g>
<g font-size="85.5">
<text x="214.2" y="1464.5">10<tspan font-size="70" dy="-39.5" dx="1.5">7</tspan></text>
<text x="653.5" y="1464.5">10<tspan font-size="70" dy="-39.5" dx="1.5">8</tspan></text>
<text x="1087.8" y="1464.5">10<tspan font-size="70" dy="-39.5" dx="1.5">9</tspan></text>
<text x="1509.8" y="1464.5">10<tspan font-size="70" dy="-39.5" dx="1.5">10</tspan></text>
<text x="1944.7" y="1464.5">10<tspan font-size="70" dy="-39.5" dx="1.5">11</tspan></text>
</g>
<text x="1159.8" y="1585" font-size="93.3" text-anchor="middle">Frequency (Hz)</text>
<text transform="translate(89,685.5) rotate(-90)" font-size="93" text-anchor="middle">Response (dB)</text>
<rect x="341" y="483" width="835" height="813" fill="#fff" stroke="#4d4d4d" stroke-width="3"/>
<g font-size="48.4">
<line x1="356" y1="524.3" x2="478" y2="524.3" stroke="#ff0000" stroke-width="8.7" stroke-dasharray="34 30"/>
<text x="489.5" y="543.6">CH1 CTLE</text>
<line x1="356" y1="590.8" x2="478" y2="590.8" stroke="#ff0000" stroke-width="8.7" stroke-dasharray="1 15.19" stroke-linecap="round" stroke-dashoffset="-4.4"/>
<text x="489.5" y="610.0">CH1 TxPkg+CH+RxPkg</text>
<line x1="356" y1="657.2" x2="478" y2="657.2" stroke="#ff0000" stroke-width="8.7"/>
<text x="489.5" y="676.5">CH1 TxPkg+CH+RxPkg+CTLE</text>
<line x1="356" y1="723.6" x2="478" y2="723.6" stroke="#0000ff" stroke-width="8.7" stroke-dasharray="34 30"/>
<text x="489.5" y="742.9">CH2 CTLE</text>
<line x1="356" y1="790.1" x2="478" y2="790.1" stroke="#0000ff" stroke-width="8.7" stroke-dasharray="1 15.19" stroke-linecap="round" stroke-dashoffset="-4.4"/>
<text x="489.5" y="809.4">CH2 TxPkg+CH+RxPkg</text>
<line x1="356" y1="856.5" x2="478" y2="856.5" stroke="#0000ff" stroke-width="8.7"/>
<text x="489.5" y="875.8">CH2 TxPkg+CH+RxPkg+CTLE</text>
<line x1="356" y1="923.0" x2="478" y2="923.0" stroke="#000000" stroke-width="8.7" stroke-dasharray="34 30"/>
<text x="489.5" y="942.3">CH3 CTLE</text>
<line x1="356" y1="989.5" x2="478" y2="989.5" stroke="#000000" stroke-width="8.7" stroke-dasharray="1 15.19" stroke-linecap="round" stroke-dashoffset="-4.4"/>
<text x="489.5" y="1008.8">CH3 TxPkg+CH+RxPkg</text>
<line x1="356" y1="1055.9" x2="478" y2="1055.9" stroke="#000000" stroke-width="8.7"/>
<text x="489.5" y="1075.2">CH3 TxPkg+CH+RxPkg+CTLE</text>
<line x1="356" y1="1122.3" x2="478" y2="1122.3" stroke="#00ff00" stroke-width="8.7" stroke-dasharray="34 30"/>
<text x="489.5" y="1141.6">CH4 CTLE</text>
<line x1="356" y1="1188.8" x2="478" y2="1188.8" stroke="#00ff00" stroke-width="8.7" stroke-dasharray="1 15.19" stroke-linecap="round" stroke-dashoffset="-4.4"/>
<text x="489.5" y="1208.1">CH4 TxPkg+CH+RxPkg</text>
<line x1="356" y1="1255.2" x2="478" y2="1255.2" stroke="#00ff00" stroke-width="8.7"/>
<text x="489.5" y="1274.5">CH4 TxPkg+CH+RxPkg+CTLE</text>
</g>
</svg></body></html>
